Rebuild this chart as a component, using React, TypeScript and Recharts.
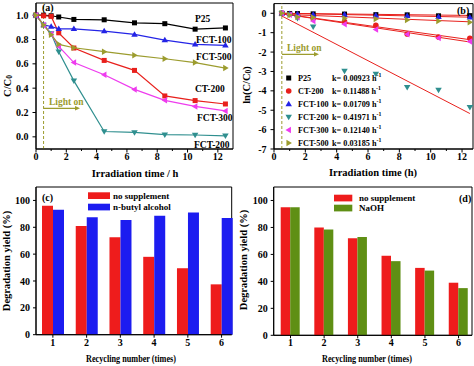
import React from 'react';
import {
  LineChart, Line, XAxis, YAxis, ReferenceLine, ReferenceArea,
  ComposedChart, Scatter, BarChart, Bar,
} from 'recharts';

const FONT = '"Liberation Serif", "Times New Roman", serif';

// (a) C/C0 against irradiation time
const timeA = [0, 0.5, 1, 1.5, 2.5, 4.5, 6.5, 8.5, 10.5, 12.5];
const p25A = [1.0, 1.0, 0.995, 0.985, 0.965, 0.962, 0.937, 0.93, 0.885, 0.895];
const ct200A = [1.0, 0.995, 0.99, 0.855, 0.73, 0.628, 0.546, 0.336, 0.298, 0.27];
const fct100A = [1.0, 0.92, 0.907, 0.888, 0.888, 0.869, 0.842, 0.795, 0.76, 0.752];
const fct200A = [1.0, 0.92, 0.85, 0.7, 0.46, 0.044, 0.036, 0.018, 0.015, 0.008];
const fct300A = [1.0, 0.92, 0.845, 0.743, 0.61, 0.51, 0.39, 0.3, 0.25, 0.213];
const fct500A = [1.0, 0.92, 0.84, 0.76, 0.732, 0.7, 0.67, 0.642, 0.61, 0.565];

// (b) ln(C/C0) with linear fits
const timeB = [0.5, 1, 1.5, 2.5, 4.5, 6.5, 8.5, 10.5, 12.5];
const p25B = [0, -0.01, -0.015, -0.03, -0.04, -0.07, -0.08, -0.13, -0.12];
const ct200B = [0, -0.05, -0.1, -0.27, -0.43, -0.62, -1.07, -1.22, -1.29];
const fct100B = [0, -0.02, -0.04, -0.06, -0.06, -0.1, -0.13, -0.18, -0.2];
const fct200B = [0, -0.08, -0.25, -0.69, -2.98, -3.13, -3.82, -3.96, -4.85];
const fct300B = [0, -0.08, -0.2, -0.4, -0.57, -0.84, -1.08, -1.27, -1.45];
const fct500B = [0, -0.09, -0.19, -0.22, -0.25, -0.3, -0.35, -0.4, -0.46];
const fitX = [0.5, 12.5];
const fitP25 = [0, -0.11];
const fitCT200 = [-0.02, -1.36];
const fitFCT100 = [0, -0.2];
const fitFCT200 = [-0.14, -5.17];
const fitFCT300 = [-0.02, -1.48];
const fitFCT500 = [-0.05, -0.44];
const kValues = ['0.00923', '0.11488', '0.01709', '0.41971', '0.12140', '0.03185'];

// (c), (d) recycling
const cycles = [1, 2, 3, 4, 5, 6];
const noSuppC = [96, 81, 72.5, 58, 49.5, 37.5];
const butanolC = [93, 87.5, 85.5, 88.5, 91, 87];
const noSuppD = [95, 80, 72, 59, 50, 39];
const naohD = [95, 78.5, 73, 55, 48, 35];

const RED = '#ee1c1c';
const BLUE = '#1c1cf0';
const GREEN = '#5f8f14';
const OLIVE = '#9c9c2e';

const series = [
  { key: 'p25', name: 'P25', color: '#000', a: p25A, b: p25B, fit: fitP25, shapeA: 'square', shapeB: 'square' },
  { key: 'ct200', name: 'CT-200', color: '#e8201c', a: ct200A, b: ct200B, fit: fitCT200, shapeA: 'square', shapeB: 'circle' },
  { key: 'fct100', name: 'FCT-100', color: '#2424e6', a: fct100A, b: fct100B, fit: fitFCT100, shapeA: 'up', shapeB: 'up' },
  { key: 'fct200', name: 'FCT-200', color: '#2f8f8f', a: fct200A, b: fct200B, fit: fitFCT200, shapeA: 'down', shapeB: 'down' },
  { key: 'fct300', name: 'FCT-300', color: '#ee3cee', a: fct300A, b: fct300B, fit: fitFCT300, shapeA: 'left', shapeB: 'left' },
  { key: 'fct500', name: 'FCT-500', color: OLIVE, a: fct500A, b: fct500B, fit: fitFCT500, shapeA: 'right', shapeB: 'right' },
];

const rowsA = timeA.map((t, i) => {
  const r: any = { t };
  series.forEach((s) => { r[s.key] = s.a[i]; });
  return r;
});
const rowsC = cycles.map((n, i) => ({ n, a: noSuppC[i], b: butanolC[i] }));
const rowsD = cycles.map((n, i) => ({ n, a: noSuppD[i], b: naohD[i] }));

const Mk = ({ cx, cy, shape, color, s = 2.5 }: any) => {
  if (cx == null || cy == null) return null;
  if (shape === 'square') return <rect x={cx - s} y={cy - s} width={2 * s} height={2 * s} fill={color} />;
  if (shape === 'circle') return <circle cx={cx} cy={cy} r={s + 0.3} fill={color} />;
  const a = s * 1.3;
  const b = s * 0.9;
  let pts = '';
  if (shape === 'up') pts = `${cx},${cy - a} ${cx - a},${cy + b} ${cx + a},${cy + b}`;
  if (shape === 'down') pts = `${cx},${cy + a} ${cx - a},${cy - b} ${cx + a},${cy - b}`;
  if (shape === 'left') pts = `${cx - a},${cy} ${cx + b},${cy - a} ${cx + b},${cy + a}`;
  if (shape === 'right') pts = `${cx + a},${cy} ${cx - b},${cy - a} ${cx - b},${cy + a}`;
  return <polygon points={pts} fill={color} />;
};

const XTick = (props: any) => {
  const { x, y, payload } = props;
  const v = payload.value;
  const major = v % 2 === 0;
  return (
    <g>
      <line x1={x} y1={y} x2={x} y2={y + (major ? 3.5 : 2)} stroke="#000" />
      {major && (
        <text x={x} y={y + 11} textAnchor="middle" fontSize={10} fontWeight="bold" fill="#000">{v}</text>
      )}
    </g>
  );
};

const tickStyle = { fontSize: 10, fill: '#000', fontWeight: 'bold' };
const allTicks = [0, 1, 2, 3, 4, 5, 6, 7, 8, 9, 10, 11, 12];

const PanelA = () => (
  <LineChart width={237} height={183} data={rowsA} margin={{ top: 3, right: 4, bottom: 0, left: 0 }}>
    <XAxis type="number" dataKey="t" domain={[0, 13]} ticks={allTicks} interval={0} height={34}
      tickSize={0} tickMargin={0} tickLine={false} stroke="#000" tick={<XTick />} />
    <YAxis domain={[-0.1, 1.1]} ticks={[0, 0.2, 0.4, 0.6, 0.8, 1.0]} interval={0} width={36}
      tickSize={3.5} tickMargin={4} stroke="#000" tick={tickStyle} tickFormatter={(v: number) => v.toFixed(1)} />
    <ReferenceArea x1={0} x2={13} y1={-0.1} y2={1.1} fill="none" stroke="#000" />
    <ReferenceLine x={0.5} stroke={OLIVE} strokeDasharray="3 2" />
    {series.map((s) => (
      <Line key={s.key} dataKey={s.key} stroke={s.color} strokeWidth={1.2} isAnimationActive={false}
        dot={(p: any) => <Mk key={p.index} cx={p.cx} cy={p.cy} shape={s.shapeA} color={s.color} />} />
    ))}
  </LineChart>
);

const PanelB = () => (
  <ComposedChart width={237} height={183} margin={{ top: 3.6, right: 1, bottom: 0, left: 0 }}>
    <XAxis type="number" dataKey="x" domain={[0, 12.7]} ticks={allTicks} interval={0} height={34}
      tickSize={0} tickMargin={0} tickLine={false} stroke="#000" tick={<XTick />} allowDataOverflow />
    <YAxis type="number" domain={[-7, 0.5]} ticks={[-7, -6, -5, -4, -3, -2, -1, 0]} interval={0} width={37}
      tickSize={3.5} tickMargin={4} stroke="#000" tick={tickStyle} />
    <ReferenceArea x1={0} x2={12.7} y1={-7} y2={0.5} fill="none" stroke="#000" />
    <ReferenceLine x={0.5} stroke={OLIVE} strokeDasharray="3 2" />
    {series.map((s) => (
      <Scatter key={s.key} data={timeB.map((x, i) => ({ x, y: s.b[i] }))} dataKey="y" isAnimationActive={false}
        shape={(p: any) => <Mk cx={p.cx} cy={p.cy} shape={s.shapeB} color={s.color} />} />
    ))}
    {series.map((s) => (
      <Line key={'fit' + s.key} data={fitX.map((x, i) => ({ x, y: s.fit[i] }))} dataKey="y" stroke="#e8201c"
        strokeWidth={1} dot={false} isAnimationActive={false} />
    ))}
  </ComposedChart>
);

const BarPanel = ({ rows, colorB, xMax, barSize, right, yWidth, xHeight }: any) => (
  <BarChart width={237} height={183} data={rows} margin={{ top: 4, right, bottom: 0, left: 0 }} barGap={0}>
    <XAxis type="number" dataKey="n" domain={[0.5, xMax]} ticks={cycles} interval={0} height={xHeight}
      tickSize={3} tickMargin={1} stroke="#000" tick={tickStyle} />
    <YAxis domain={[0, 110]} ticks={[0, 20, 40, 60, 80, 100]} interval={0} width={yWidth}
      tickSize={3} tickMargin={3} stroke="#000" tick={tickStyle} />
    <ReferenceArea x1={0.5} x2={xMax} y1={0} y2={110} fill="none" stroke="#000" />
    <Bar dataKey="a" fill={RED} barSize={barSize} isAnimationActive={false} />
    <Bar dataKey="b" fill={colorB} barSize={barSize} isAnimationActive={false} />
  </BarChart>
);

const T = ({ x, y, size = 9.5, anchor = 'start', color = '#000', children, rotate, fit }: any) => (
  <text x={x} y={y} fontSize={size} fontWeight="bold" fill={color} textAnchor={anchor}
    dominantBaseline="central" transform={rotate ? `rotate(-90 ${x} ${y})` : undefined}
    textLength={fit} lengthAdjust={fit ? 'spacingAndGlyphs' : undefined}>
    {children}
  </text>
);

const Arrow = ({ x1, x2, y }: any) => (
  <g>
    <line x1={x1} y1={y} x2={x2 - 3} y2={y} stroke={OLIVE} strokeWidth={1.2} />
    <polygon points={`${x2},${y} ${x2 - 5},${y - 2.2} ${x2 - 5},${y + 2.2}`} fill={OLIVE} />
  </g>
);

const legendRowsB = [78, 91, 104, 117, 130, 143];

const Overlay = () => (
  <svg width={474} height={366} style={{ position: 'absolute', left: 0, top: 0, pointerEvents: 'none' }}>
    {/* panel (a) */}
    <T x={42} y={7.5} size={10}>(a)</T>
    <T x={195} y={19}>P25</T>
    <T x={196} y={40}>FCT-100</T>
    <T x={196} y={57}>FCT-500</T>
    <T x={195} y={89}>CT-200</T>
    <T x={197} y={118}>FCT-300</T>
    <T x={194} y={145}>FCT-200</T>
    <T x={49} y={101.5} color={OLIVE}>Light on</T>
    <Arrow x1={44} x2={80} y={108.3} />
    <T x={135} y={173} size={10.5} anchor="middle">Irradiation time / h</T>
    <text x={7} y={86} fontSize={10.5} fontWeight="bold" textAnchor="middle" dominantBaseline="central"
      transform="rotate(-90 7 86)">C/C<tspan fontSize={7.5} dy={2}>0</tspan></text>

    {/* panel (b) */}
    <T x={457} y={10} size={10}>(b)</T>
    <T x={287} y={47.5} color={OLIVE}>Light on</T>
    <Arrow x1={282} x2={319} y={54.3} />
    <T x={373} y={172} size={10.5} anchor="middle">Irradiation time (h)</T>
    <text x={246} y={85} fontSize={10.5} fontWeight="bold" textAnchor="middle" dominantBaseline="central"
      transform="rotate(-90 246 85)">ln(C/C<tspan fontSize={7.5} dy={2}>0</tspan><tspan dy={-2}>)</tspan></text>
    {series.map((s, i) => (
      <g key={s.key}>
        <Mk cx={288.7} cy={legendRowsB[i]} shape={s.shapeB} color={s.color} />
        <T x={298} y={legendRowsB[i]} size={8.2}>{s.name}</T>
        <text x={332} y={legendRowsB[i]} fontSize={8.2} fontWeight="bold" dominantBaseline="central">
          k= {kValues[i]} h<tspan fontSize={5.8} dy={-3}>-1</tspan>
        </text>
      </g>
    ))}

    {/* panel (c) */}
    <T x={42} y={197} size={10}>(c)</T>
    <rect x={88} y={192.3} width={22} height={6.7} fill={RED} />
    <rect x={88} y={203.7} width={22} height={6.7} fill={BLUE} />
    <T x={113} y={195.8} size={9}>no supplement</T>
    <T x={113} y={207} size={9}>n-butyl alcohol</T>
    <T x={131} y={358} size={10.5} anchor="middle" fit={90}>Recycling number (times)</T>
    <T x={6} y={261} size={10.5} anchor="middle" rotate>Degradation yield (%)</T>

    {/* panel (d) */}
    <T x={459} y={198} size={10}>(d)</T>
    <rect x={334} y={194.7} width={18.3} height={6.7} fill={RED} />
    <rect x={334} y={204.7} width={18.3} height={6.7} fill={GREEN} />
    <T x={359} y={198} size={9}>no supplement</T>
    <T x={359} y={208} size={9}>NaOH</T>
    <T x={367} y={358} size={10.5} anchor="middle" fit={90}>Recycling number (times)</T>
    <T x={243} y={260} size={10.5} anchor="middle" rotate>Degradation yield (%)</T>
  </svg>
);

export default function App() {
  return (
    <div style={{ position: 'absolute', left: 0, top: 0, width: 474, height: 366, background: '#fff', fontFamily: FONT, fontWeight: 'bold' }}>
      <div style={{ position: 'absolute', left: 0, top: 0 }}><PanelA /></div>
      <div style={{ position: 'absolute', left: 237, top: 0 }}><PanelB /></div>
      <div style={{ position: 'absolute', left: 0, top: 183 }}>
        <BarPanel rows={rowsC} colorB={BLUE} xMax={6.3} barSize={11} right={5.3} yWidth={36} xHeight={31.3} />
      </div>
      <div style={{ position: 'absolute', left: 237, top: 183 }}>
        <BarPanel rows={rowsD} colorB={GREEN} xMax={6.4} barSize={9.5} right={2} yWidth={36.7} xHeight={30.7} />
      </div>
      <Overlay />
    </div>
  );
}
